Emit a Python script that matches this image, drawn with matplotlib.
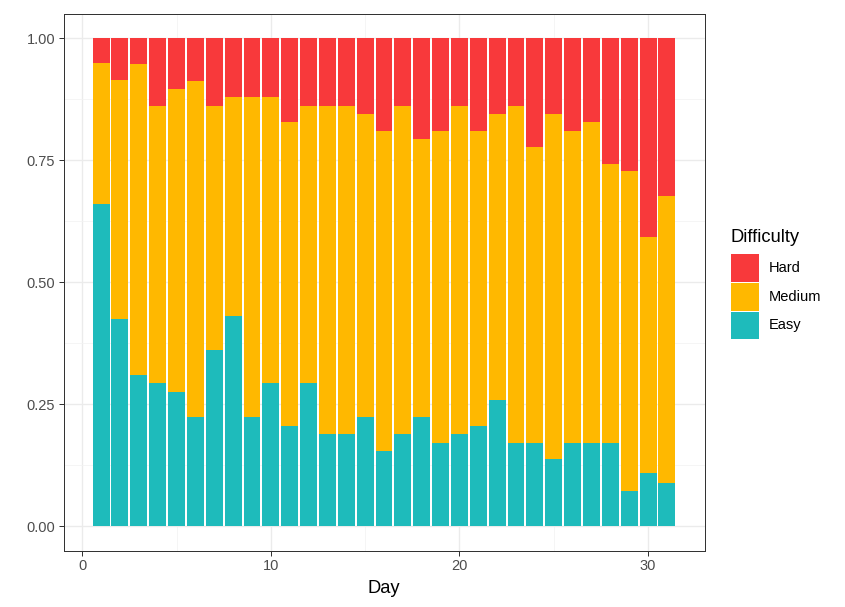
import matplotlib
matplotlib.use("Agg")
import matplotlib.pyplot as plt
from matplotlib.patches import Rectangle
import numpy as np

plt.rcParams['font.family'] = ['Liberation Sans', 'DejaVu Sans']

days = list(range(1, 32))
easy = [0.660, 0.424, 0.309, 0.293, 0.275, 0.223, 0.361, 0.430, 0.223, 0.293,
        0.206, 0.293, 0.189, 0.189, 0.223, 0.154, 0.189, 0.223, 0.170, 0.189,
        0.206, 0.258, 0.170, 0.170, 0.137, 0.170, 0.170, 0.170, 0.072, 0.109,
        0.088]
easy_medium = [0.949, 0.915, 0.947, 0.861, 0.895, 0.912, 0.861, 0.879, 0.879, 0.879,
               0.827, 0.861, 0.861, 0.861, 0.844, 0.810, 0.861, 0.793, 0.810, 0.861,
               0.810, 0.844, 0.861, 0.776, 0.844, 0.810, 0.827, 0.741, 0.727, 0.592,
               0.676]
medium = [round(em - e, 3) for em, e in zip(easy_medium, easy)]
hard = [round(1 - em, 3) for em in easy_medium]

categories = ["Hard", "Medium", "Easy"]
colors = {"Hard": "#F8393B", "Medium": "#FFB800", "Easy": "#1EBBBB"}

W, H = 845, 607
dpi = 120
fig = plt.figure(figsize=(W / dpi, H / dpi), dpi=dpi)

left, right, top, bottom = 63.5, 704.5, 13.6, 550.6
ax = fig.add_axes([left / W, 1 - bottom / H, (right - left) / W, (bottom - top) / H])

x = np.array(days)
ax.bar(x, easy, width=0.9, color=colors["Easy"], linewidth=0, zorder=3)
ax.bar(x, medium, width=0.9, bottom=easy, color=colors["Medium"], linewidth=0, zorder=3)
ax.bar(x, hard, width=0.9, bottom=np.array(easy) + np.array(medium),
       color=colors["Hard"], linewidth=0, zorder=3)

ax.set_xlim(-0.995, 32.995)
ax.set_ylim(-0.05, 1.05)
ax.set_xticks([0, 10, 20, 30])
ax.set_xticklabels(["0", "10", "20", "30"])
ax.set_yticks([0, 0.25, 0.5, 0.75, 1.0])
ax.set_yticklabels(["0.00", "0.25", "0.50", "0.75", "1.00"])
ax.set_xticks([5, 15, 25], minor=True)
ax.set_yticks([0.125, 0.375, 0.625, 0.875], minor=True)

ax.grid(True, which='major', color='#EBEBEB', linewidth=0.8, zorder=0)
ax.grid(True, which='minor', color='#F2F2F2', linewidth=0.45, zorder=0)
ax.set_axisbelow(True)
for s in ax.spines.values():
    s.set_color('#333333')
    s.set_linewidth(0.6)
ax.tick_params(which='major', length=2.75, width=0.6, color='#333333',
               labelsize=8.8, labelcolor='#4D4D4D', pad=2.2)
ax.tick_params(which='minor', length=0)

ax.set_xlabel("Day", fontsize=11, color='black', labelpad=4.5)

# Legend
fig.text(731 / W, 1 - 237 / H, "Difficulty", fontsize=11, va='center', ha='left')
key_top = 253.5
key_h = 28.8
for i, cat in enumerate(categories):
    y0 = key_top + i * key_h
    fig.add_artist(Rectangle((731 / W, 1 - (y0 + key_h - 0.5) / H), 28.3 / W, (key_h - 1) / H,
                             transform=fig.transFigure, color=colors[cat], linewidth=0))
    fig.text(769 / W, 1 - (y0 + key_h / 2) / H, cat, fontsize=8.8, va='center', ha='left')

fig.savefig("out.png", dpi=dpi)
